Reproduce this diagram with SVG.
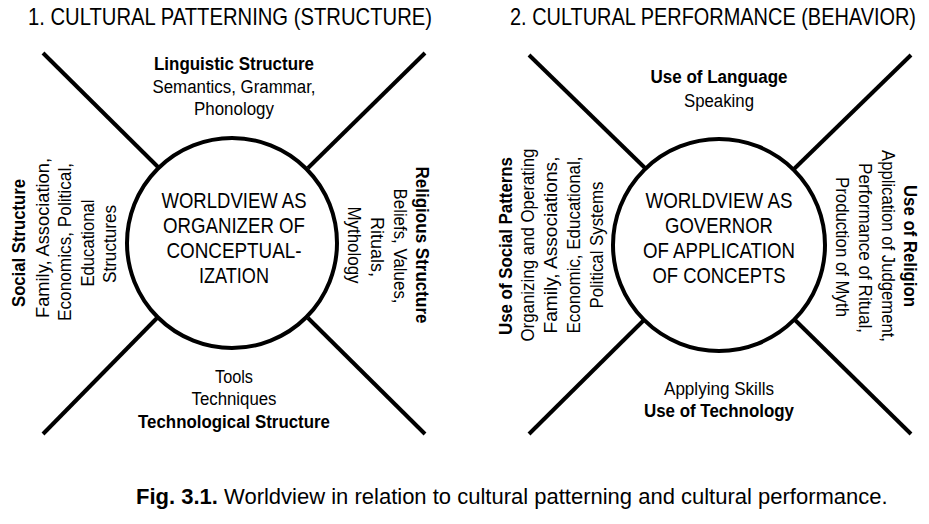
<svg xmlns="http://www.w3.org/2000/svg" width="929" height="524" viewBox="0 0 929 524">
<style>
text{font-family:"Liberation Sans",Arial,sans-serif;fill:#000;text-anchor:middle}
.t{font-size:24px}
.c{font-size:22px}
.l{font-size:18px}
.b{font-weight:bold}
.ln{stroke:#000;stroke-width:4;fill:none}
</style>
<rect width="929" height="524" fill="#fff"/>
<text class="t" x="230" y="25" textLength="404" lengthAdjust="spacingAndGlyphs">1. CULTURAL PATTERNING (STRUCTURE)</text>
<text class="t" x="713" y="25" textLength="406" lengthAdjust="spacingAndGlyphs">2. CULTURAL PERFORMANCE (BEHAVIOR)</text>
<g id="connectors">
<line class="ln" x1="43" y1="53" x2="158" y2="167"/>
<line class="ln" x1="425" y1="53" x2="308" y2="168"/>
<line class="ln" x1="43" y1="434" x2="157" y2="318"/>
<line class="ln" x1="425" y1="434" x2="308" y2="318"/>
<line class="ln" x1="529" y1="55" x2="645" y2="168"/>
<line class="ln" x1="911" y1="55" x2="794" y2="169"/>
<line class="ln" x1="529" y1="434" x2="645" y2="319"/>
<line class="ln" x1="911" y1="434" x2="794" y2="319"/>
</g>
<g id="center1">
<circle class="ln" cx="232" cy="243" r="105" fill="#fff"/>
<text class="c" x="234" y="208" textLength="145" lengthAdjust="spacingAndGlyphs">WORLDVIEW AS</text>
<text class="c" x="234" y="233" textLength="142" lengthAdjust="spacingAndGlyphs">ORGANIZER OF</text>
<text class="c" x="234" y="258" textLength="135" lengthAdjust="spacingAndGlyphs">CONCEPTUAL-</text>
<text class="c" x="234" y="283" textLength="70" lengthAdjust="spacingAndGlyphs">IZATION</text>
</g>
<g id="linguistic">
<text class="l b" x="234" y="70" textLength="160" lengthAdjust="spacingAndGlyphs">Linguistic Structure</text>
<text class="l" x="234" y="93" textLength="163" lengthAdjust="spacingAndGlyphs">Semantics, Grammar,</text>
<text class="l" x="234" y="115" textLength="80" lengthAdjust="spacingAndGlyphs">Phonology</text>
</g>
<g id="technological">
<text class="l" x="234" y="383" textLength="38" lengthAdjust="spacingAndGlyphs">Tools</text>
<text class="l" x="234" y="405" textLength="85" lengthAdjust="spacingAndGlyphs">Techniques</text>
<text class="l b" x="234" y="428" textLength="192" lengthAdjust="spacingAndGlyphs">Technological Structure</text>
</g>
<g id="social">
<text class="l b" transform="translate(25,243) rotate(-90)" textLength="128" lengthAdjust="spacingAndGlyphs">Social Structure</text>
<text class="l" transform="translate(49,238) rotate(-90)" textLength="160" lengthAdjust="spacingAndGlyphs">Family, Association,</text>
<text class="l" transform="translate(71,242) rotate(-90)" textLength="158" lengthAdjust="spacingAndGlyphs">Economics, Political,</text>
<text class="l" transform="translate(94,243) rotate(-90)" textLength="87" lengthAdjust="spacingAndGlyphs">Educational</text>
<text class="l" transform="translate(116,244) rotate(-90)" textLength="78" lengthAdjust="spacingAndGlyphs">Structures</text>
</g>
<g id="religious">
<text class="l b" transform="translate(416,245) rotate(90)" textLength="157" lengthAdjust="spacingAndGlyphs">Religious Structure</text>
<text class="l" transform="translate(394,246) rotate(90)" textLength="115" lengthAdjust="spacingAndGlyphs">Beliefs, Values,</text>
<text class="l" transform="translate(371,247) rotate(90)" textLength="60" lengthAdjust="spacingAndGlyphs">Rituals,</text>
<text class="l" transform="translate(348,245) rotate(90)" textLength="77" lengthAdjust="spacingAndGlyphs">Mythology</text>
</g>
<g id="center2">
<circle class="ln" cx="719" cy="245" r="106" fill="#fff"/>
<text class="c" x="719" y="208" textLength="147" lengthAdjust="spacingAndGlyphs">WORLDVIEW AS</text>
<text class="c" x="719" y="233" textLength="108" lengthAdjust="spacingAndGlyphs">GOVERNOR</text>
<text class="c" x="719" y="258" textLength="152" lengthAdjust="spacingAndGlyphs">OF APPLICATION</text>
<text class="c" x="719" y="283" textLength="133" lengthAdjust="spacingAndGlyphs">OF CONCEPTS</text>
</g>
<g id="language">
<text class="l b" x="719" y="83" textLength="137" lengthAdjust="spacingAndGlyphs">Use of Language</text>
<text class="l" x="719" y="107" textLength="70" lengthAdjust="spacingAndGlyphs">Speaking</text>
</g>
<g id="technology">
<text class="l" x="719" y="395" textLength="110" lengthAdjust="spacingAndGlyphs">Applying Skills</text>
<text class="l b" x="719" y="417" textLength="150" lengthAdjust="spacingAndGlyphs">Use of Technology</text>
</g>
<g id="socialpatterns">
<text class="l b" transform="translate(512,246) rotate(-90)" textLength="178" lengthAdjust="spacingAndGlyphs">Use of Social Patterns</text>
<text class="l" transform="translate(534,245) rotate(-90)" textLength="193" lengthAdjust="spacingAndGlyphs">Organizing and Operating</text>
<text class="l" transform="translate(557,245) rotate(-90)" textLength="177" lengthAdjust="spacingAndGlyphs">Family, Associations,</text>
<text class="l" transform="translate(580,245) rotate(-90)" textLength="177" lengthAdjust="spacingAndGlyphs">Economic, Educational,</text>
<text class="l" transform="translate(603,245) rotate(-90)" textLength="127" lengthAdjust="spacingAndGlyphs">Political Systems</text>
</g>
<g id="religion">
<text class="l b" transform="translate(904,246) rotate(90)" textLength="122" lengthAdjust="spacingAndGlyphs">Use of Religion</text>
<text class="l" transform="translate(882,246) rotate(90)" textLength="192" lengthAdjust="spacingAndGlyphs">Application of Judgement,</text>
<text class="l" transform="translate(859,248) rotate(90)" textLength="170" lengthAdjust="spacingAndGlyphs">Performance of Ritual,</text>
<text class="l" transform="translate(836,247) rotate(90)" textLength="140" lengthAdjust="spacingAndGlyphs">Production of Myth</text>
</g>
<text x="136" y="504" style="text-anchor:start;font-size:22px"><tspan font-weight="bold">Fig. 3.1.</tspan> Worldview in relation to cultural patterning and cultural performance.</text>
</svg>
